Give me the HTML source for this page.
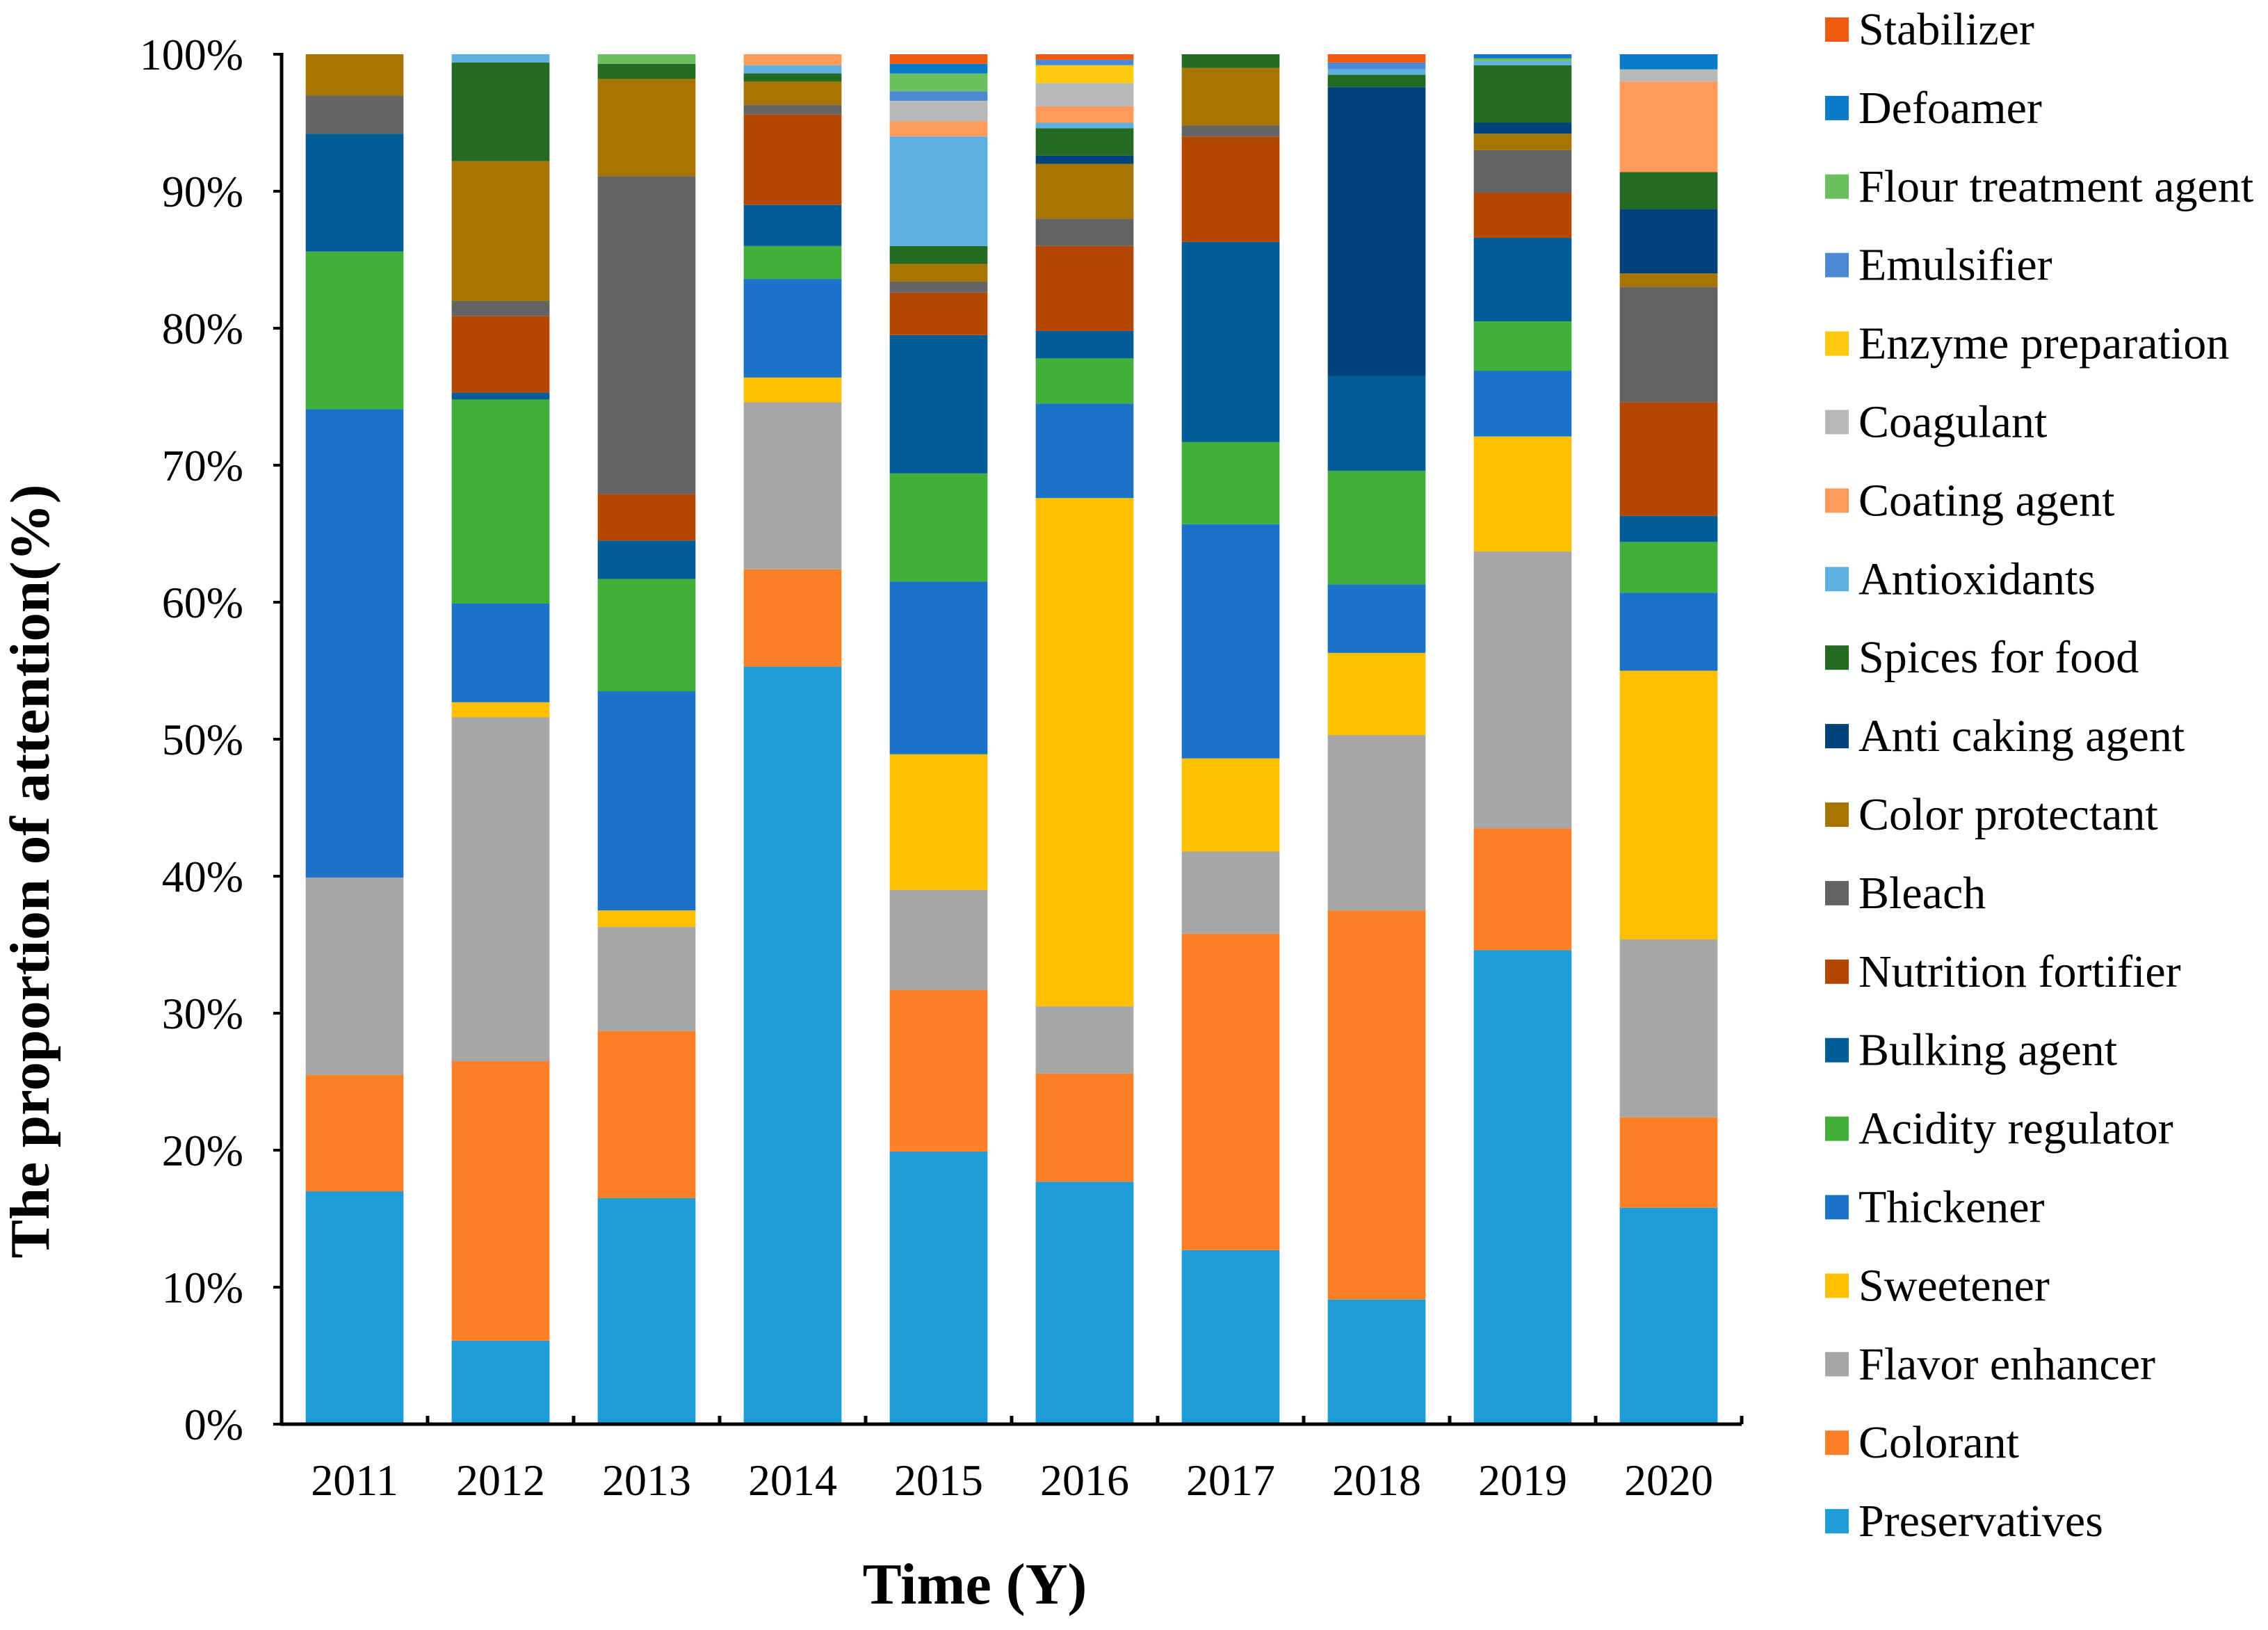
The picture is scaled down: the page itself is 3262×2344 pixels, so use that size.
<!DOCTYPE html>
<html><head><meta charset="utf-8"><style>
html,body{margin:0;padding:0;background:#fff;}
svg{display:block;font-family:"Liberation Serif",serif;}
</style></head><body>
<svg id="chart" width="3262" height="2344" viewBox="0 0 3262 2344" xmlns="http://www.w3.org/2000/svg">
<g id="bars"></g>
<g id="axes"></g>
<g id="legend"></g>
<text transform="translate(70,1253) rotate(-90)" text-anchor="middle" font-weight="bold" font-size="80" textLength="1113" lengthAdjust="spacingAndGlyphs">The proportion of attention(%)</text>
<text x="1402" y="2306" text-anchor="middle" font-weight="bold" font-size="84">Time (Y)</text>
</svg>
<script>
const categories = ["2011","2012","2013","2014","2015","2016","2017","2018","2019","2020"];
const yTicks = [0,10,20,30,40,50,60,70,80,90,100];
const seriesNames = ["Preservatives","Colorant","Flavor enhancer","Sweetener","Thickener","Acidity regulator","Bulking agent","Nutrition fortifier","Bleach","Color protectant","Anti caking agent","Spices for food","Antioxidants","Coating agent","Coagulant","Enzyme preparation","Emulsifier","Flour treatment agent","Defoamer","Stabilizer"];
const preservatives = [17.0,6.1,16.5,55.3,19.9,17.7,12.7,9.1,34.6,15.8];
const colorant = [8.5,20.4,12.2,7.1,11.8,7.9,23.1,28.4,8.9,6.6];
const flavorEnhancer = [14.4,25.1,7.6,12.2,7.3,4.9,6.0,12.8,20.2,13.0];
const sweetener = [0,1.1,1.2,1.8,9.9,37.1,6.8,6.0,8.4,19.6];
const thickener = [34.2,7.2,16.0,7.2,12.6,6.9,17.1,5.0,4.8,5.7];
const acidityRegulator = [11.5,14.9,8.2,2.4,7.9,3.3,6.0,8.3,3.6,3.7];
const bulkingAgent = [8.6,0.5,2.8,3.0,10.1,2.0,14.6,6.9,6.1,1.9];
const nutritionFortifier = [0,5.6,3.4,6.6,3.1,6.2,7.7,0,3.3,8.3];
const bleach = [2.8,1.1,23.2,0.7,0.8,2.0,0.8,0,3.1,8.4];
const colorProtectant = [3.0,10.2,7.1,1.7,1.3,4.0,4.2,0,1.2,1.0];
const antiCakingAgent = [0,0,0,0,0,0.6,0,21.1,0.8,4.7];
const spicesForFood = [0,7.2,1.1,0.6,1.3,2.0,1.0,0.9,4.2,2.7];
const antioxidants = [0,0.6,0,0.6,8.0,0.4,0,0.4,0.3,0];
const coatingAgent = [0,0,0,0.8,1.1,1.2,0,0,0,6.6];
const coagulant = [0,0,0,0,1.5,1.7,0,0,0,0.9];
const enzymePreparation = [0,0,0,0,0,1.3,0,0,0,0];
const emulsifier = [0,0,0,0,0.7,0.4,0,0.5,0,0];
const flourTreatmentAgent = [0,0,0.7,0,1.3,0,0,0,0.2,0];
const defoamer = [0,0,0,0,0.7,0,0,0,0.3,1.1];
const stabilizer = [0,0,0,0,0.7,0.4,0,0.6,0,0];

const seriesValues = [preservatives,colorant,flavorEnhancer,sweetener,thickener,acidityRegulator,bulkingAgent,nutritionFortifier,bleach,colorProtectant,antiCakingAgent,spicesForFood,antioxidants,coatingAgent,coagulant,enzymePreparation,emulsifier,flourTreatmentAgent,defoamer,stabilizer];
const colors = ["#1e9cd8","#ff7f27","#a6a6a6","#ffc000","#1a73c8","#44ae3c","#005d95","#b54600","#636363","#a67500","#00437a","#246a22","#5eb0e0","#ff9a5a","#b8b8b8","#ffc90e","#4a8ad4","#6bbf5e","#0a7bc8","#f05a10"];

const NS="http://www.w3.org/2000/svg";
const X0=405, X1=2505, Y0=2048, Y1=78;
const band=(X1-X0)/categories.length, barW=band*0.67;
function xScale(i){return X0+band*i+band/2;}
function yScale(v){return Y0-(Y0-Y1)*v/100;}
function mk(tag,attrs,parent){const e=document.createElementNS(NS,tag);for(const k in attrs)e.setAttribute(k,attrs[k]);parent.appendChild(e);return e;}

const gb=document.getElementById('bars');
categories.forEach((c,i)=>{
  let cum=0;
  seriesValues.forEach((arr,s)=>{
    const v=arr[i]; if(!v)return;
    const yTop=yScale(cum+v), yBot=yScale(cum);
    const r=mk('rect',{x:xScale(i)-barW/2,y:yTop,width:barW,height:yBot-yTop,fill:colors[s]},gb);
    
    
    cum+=v;
  });
});

const ga=document.getElementById('axes');
const yl=mk('line',{x1:X0,y1:Y1-2,x2:X0,y2:Y0+2,stroke:'#000','stroke-width':5},ga);


const xl=mk('line',{x1:X0-2,y1:Y0,x2:X1,y2:Y0,stroke:'#000','stroke-width':5},ga);


yTicks.forEach(t=>{
  const y=yScale(t);
  const tk=mk('line',{x1:X0-12,y1:y,x2:X0,y2:y,stroke:'#000','stroke-width':4},ga);
  
  
  const tx=mk('text',{x:350,y:y+22,'text-anchor':'end','font-size':64},ga);
  tx.textContent=t+'%';
  
  
});
for(let i=0;i<=categories.length;i++){
  const x=X0+band*i;
  const tk=mk('line',{x1:x,y1:Y0-12,x2:x,y2:Y0,stroke:'#000','stroke-width':5},ga);
  
  
}
categories.forEach((c,i)=>{
  const tx=mk('text',{x:xScale(i),y:2150,'text-anchor':'middle','font-size':64},ga);
  tx.textContent=c;
  
  
});

const gl=document.getElementById('legend');
const n=seriesNames.length;
for(let k=0;k<n;k++){
  const s=n-1-k;
  const cy=42+k*112.9;
  const g=mk('g',{},gl);
  
  
  const r=mk('rect',{x:2625,y:cy-17,width:34,height:35,fill:colors[s]},g);
  
  
  const t=mk('text',{x:2673,y:cy+22,'font-size':66},g);
  t.textContent=seriesNames[s];
  
  
}
</script>
</body></html>
